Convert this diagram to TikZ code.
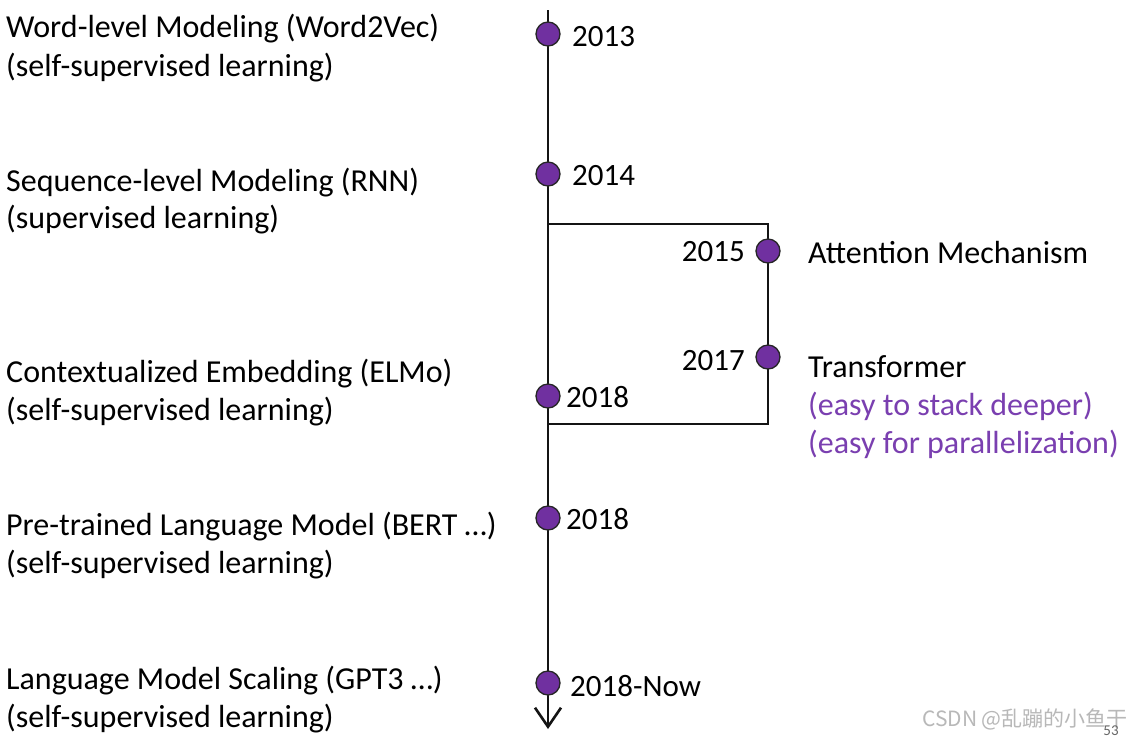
\documentclass[tikz,border=0pt]{standalone}
\usepackage{fontspec}
\setmainfont{Carlito}
\newfontfamily\cjkfont{Noto Sans CJK SC}
\usetikzlibrary{arrows.meta}
\definecolor{dotpurple}{HTML}{7030A0}
\definecolor{txtpurple}{HTML}{7A3FB0}
\definecolor{wmgray}{HTML}{B8B8B8}
\tikzset{
  line/.style={line width=2.6pt, black!92},
  evt/.style={circle, fill=dotpurple, draw=black!85, line width=1.3pt, minimum size=24pt, inner sep=0pt},
  lbl/.style={inner sep=0pt, font=\fontsize{32}{38}\selectfont, anchor=west},
  yr/.style={inner sep=0pt, font=\fontsize{31}{36}\selectfont},
  note/.style={lbl, text=txtpurple},
}
\begin{document}
\begin{tikzpicture}[x=1pt,y=-1pt]
\useasboundingbox (0,0) rectangle (1135,740);
\fill[white] (0,0) rectangle (1135,740);
% coordinates
\coordinate (top) at (548,10);
\coordinate (bot) at (548,729);
\coordinate (bs) at (548,224);
\coordinate (bsr) at (768,224);
\coordinate (ber) at (768,424);
\coordinate (be) at (548,424);
% lines
\draw[line, -{Straight Barb[length=19pt,width=26pt,line width=2.6pt]}] (top) -- (bot);
\draw[line] (bs) -- (bsr) -- (ber) -- (be);
% events
\node[evt] (e13) at (548,34) {};
\node[evt] (e14) at (548,174) {};
\node[evt] (e15) at (768,251) {};
\node[evt] (e17) at (768,357) {};
\node[evt] (e18a) at (548,396) {};
\node[evt] (e18b) at (548,518) {};
\node[evt] (e18n) at (548,683) {};
% years
\node[yr, anchor=west] (y13) at (572,37) {2013};
\node[yr, anchor=west] (y14) at (572,176) {2014};
\node[yr, anchor=east] (y15) at (745,252) {2015};
\node[yr, anchor=east] (y17) at (745,361) {2017};
\node[yr, anchor=west] (y18a) at (566,397) {2018};
\node[yr, anchor=west] (y18b) at (566,519) {2018};
\node[yr, anchor=west] (y18n) at (570,686) {2018-Now};
% left labels
\node[lbl] (l1a) at (6,29) {Word-level Modeling (Word2Vec)};
\node[lbl] (l1b) at (6,68) {(self-supervised learning)};
\node[lbl] (l2a) at (6,183) {Sequence-level Modeling (RNN)};
\node[lbl] (l2b) at (6,220) {(supervised learning)};
\node[lbl] (l3a) at (6,374) {Contextualized Embedding (ELMo)};
\node[lbl] (l3b) at (6,412) {(self-supervised learning)};
\node[lbl] (l4a) at (6,527) {Pre-trained Language Model (BERT \dots)};
\node[lbl] (l4b) at (6,565) {(self-supervised learning)};
\node[lbl] (l5a) at (6,681) {Language Model Scaling (GPT3 \dots)};
\node[lbl] (l5b) at (6,719) {(self-supervised learning)};
% right labels
\node[lbl] (r1) at (808,252) {Attention Mechanism};
\node[lbl] (r2) at (808,367) {Transformer};
\node[note] (r3) at (808,406) {(easy to stack deeper)};
\node[note] (r4) at (808,444) {(easy for parallelization)};
% watermark
\node[inner sep=0pt, anchor=east, text=wmgray, font=\fontsize{21}{24}\selectfont\cjkfont] (wm) at (1128,719) {CSDN @乱蹦的小鱼干};
\node[inner sep=0pt, text=black!60, font=\fontsize{15}{16}\selectfont] (pg) at (1111,731) {53};
\end{tikzpicture}
\end{document}
